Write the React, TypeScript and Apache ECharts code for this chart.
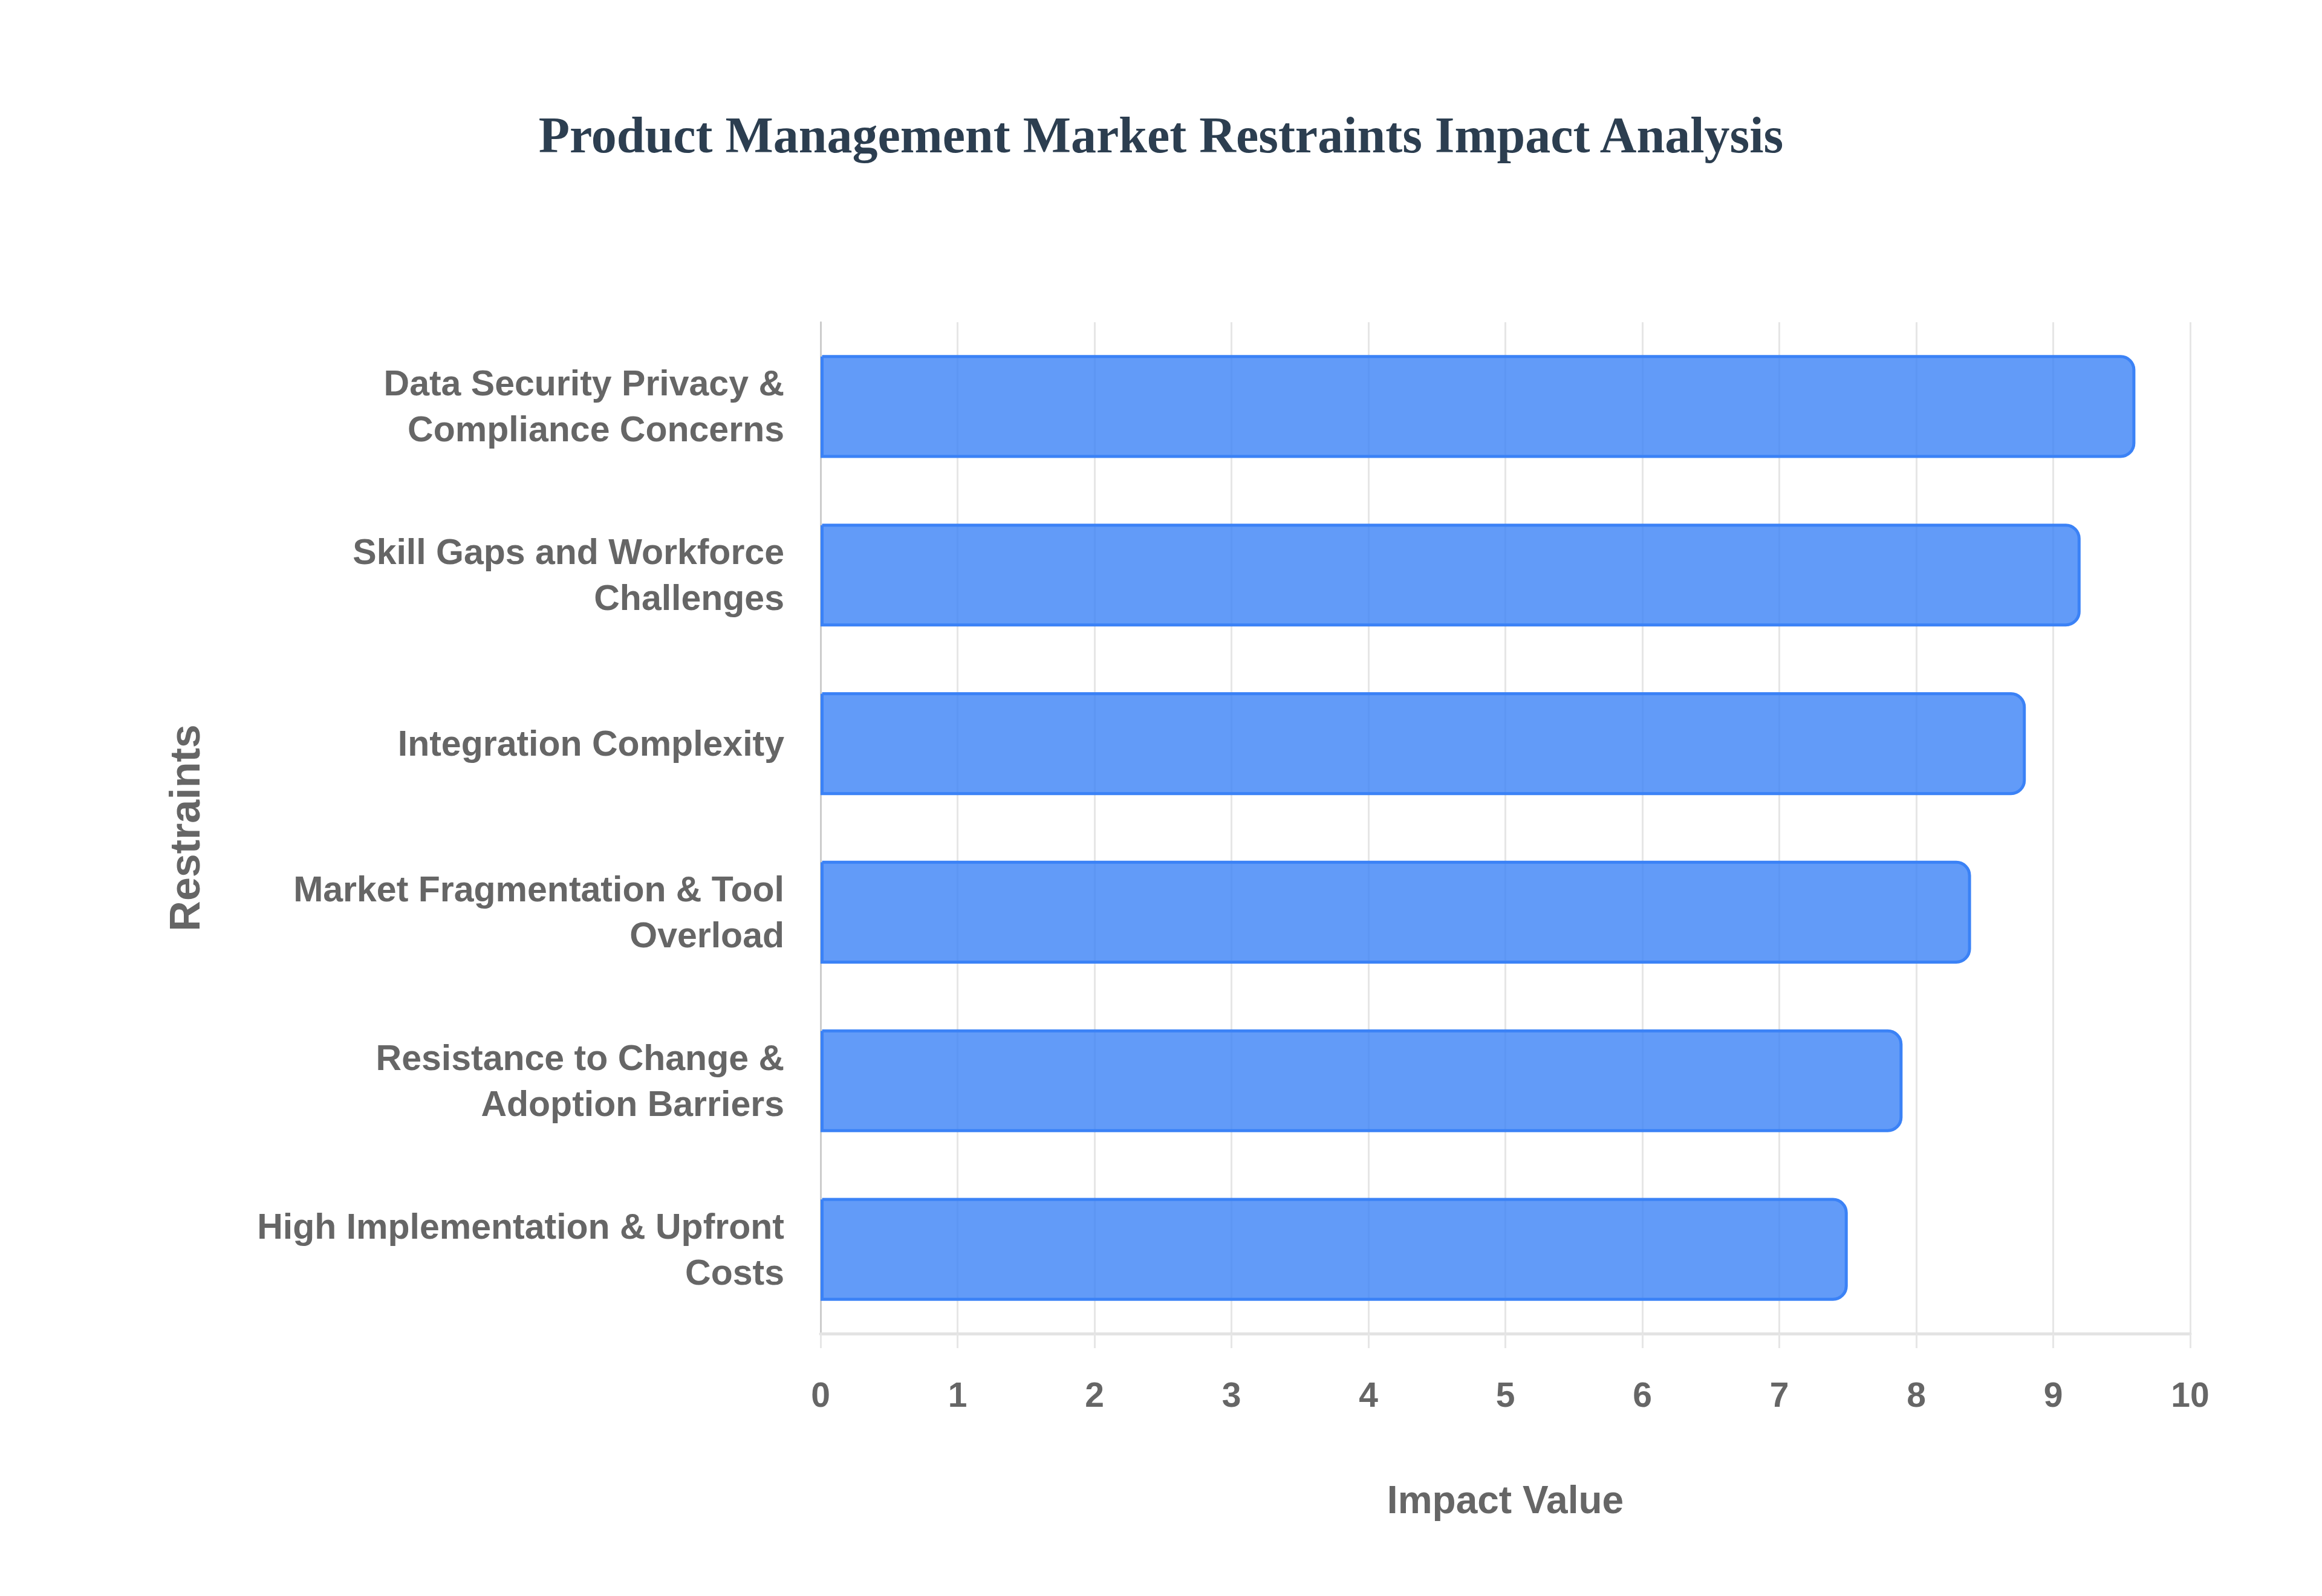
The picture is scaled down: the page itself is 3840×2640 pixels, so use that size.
import { useEffect, useRef } from "react";
import * as echarts from "echarts";

const restraints = [
  "Data Security Privacy &\nCompliance Concerns",
  "Skill Gaps and Workforce\nChallenges",
  "Integration Complexity",
  "Market Fragmentation & Tool\nOverload",
  "Resistance to Change &\nAdoption Barriers",
  "High Implementation & Upfront\nCosts",
];
const impactValues = [9.6, 9.2, 8.8, 8.4, 7.9, 7.5];

const labelFont = "'Liberation Sans', Arial, Helvetica, sans-serif";

const App = () => {
  const chartRef = useRef<HTMLDivElement | null>(null);

  useEffect(() => {
    document.body.style.margin = "0";
    if (!chartRef.current) return;
    const chart = echarts.init(chartRef.current, null, { renderer: "svg" });

    chart.setOption({
      animation: false,
      backgroundColor: "#ffffff",
      title: {
        text: "Product Management Market Restraints Impact Analysis",
        left: "center",
        top: 176,
        textStyle: {
          fontFamily: "'Liberation Serif', 'Times New Roman', serif",
          fontWeight: "bold",
          fontSize: 84,
          color: "#2c3e50",
        },
      },
      grid: { left: 1357, right: 218, top: 533, bottom: 434, containLabel: false },
      xAxis: {
        type: "value",
        min: 0,
        max: 10,
        interval: 1,
        name: "Impact Value",
        nameLocation: "middle",
        nameGap: 243,
        nameTextStyle: { fontFamily: labelFont, fontWeight: "bold", fontSize: 64, color: "#666666" },
        axisLine: { show: true, lineStyle: { color: "#e3e3e3", width: 5 } },
        axisTick: { show: true, length: 24, lineStyle: { color: "#e6e6e6", width: 3 } },
        axisLabel: { margin: 72, fontFamily: labelFont, fontWeight: "bold", fontSize: 57, color: "#666666" },
        splitLine: { show: true, lineStyle: { color: "#e6e6e6", width: 3 } },
      },
      yAxis: {
        type: "category",
        inverse: true,
        data: restraints,
        name: "Restraints",
        nameLocation: "middle",
        nameGap: 1016,
        nameTextStyle: { fontFamily: labelFont, fontWeight: "bold", fontSize: 70, color: "#666666" },
        axisLine: { show: true, lineStyle: { color: "#cccccc", width: 3 } },
        axisTick: { show: false },
        axisLabel: {
          margin: 60,
          fontFamily: labelFont,
          fontWeight: "bold",
          fontSize: 59,
          lineHeight: 76,
          color: "#666666",
          align: "right",
        },
        splitLine: { show: false },
      },
      series: [
        {
          type: "bar",
          data: impactValues,
          barCategoryGap: "39%",
          itemStyle: {
            color: "rgba(59, 130, 246, 0.8)",
            borderColor: "#3b82f6",
            borderWidth: 5,
            borderRadius: [0, 22, 22, 0],
          },
        },
      ],
    });

    return () => {
      chart.dispose();
    };
  }, []);

  return <div ref={chartRef} style={{ width: 3840, height: 2640 }} />;
};

export default App;
